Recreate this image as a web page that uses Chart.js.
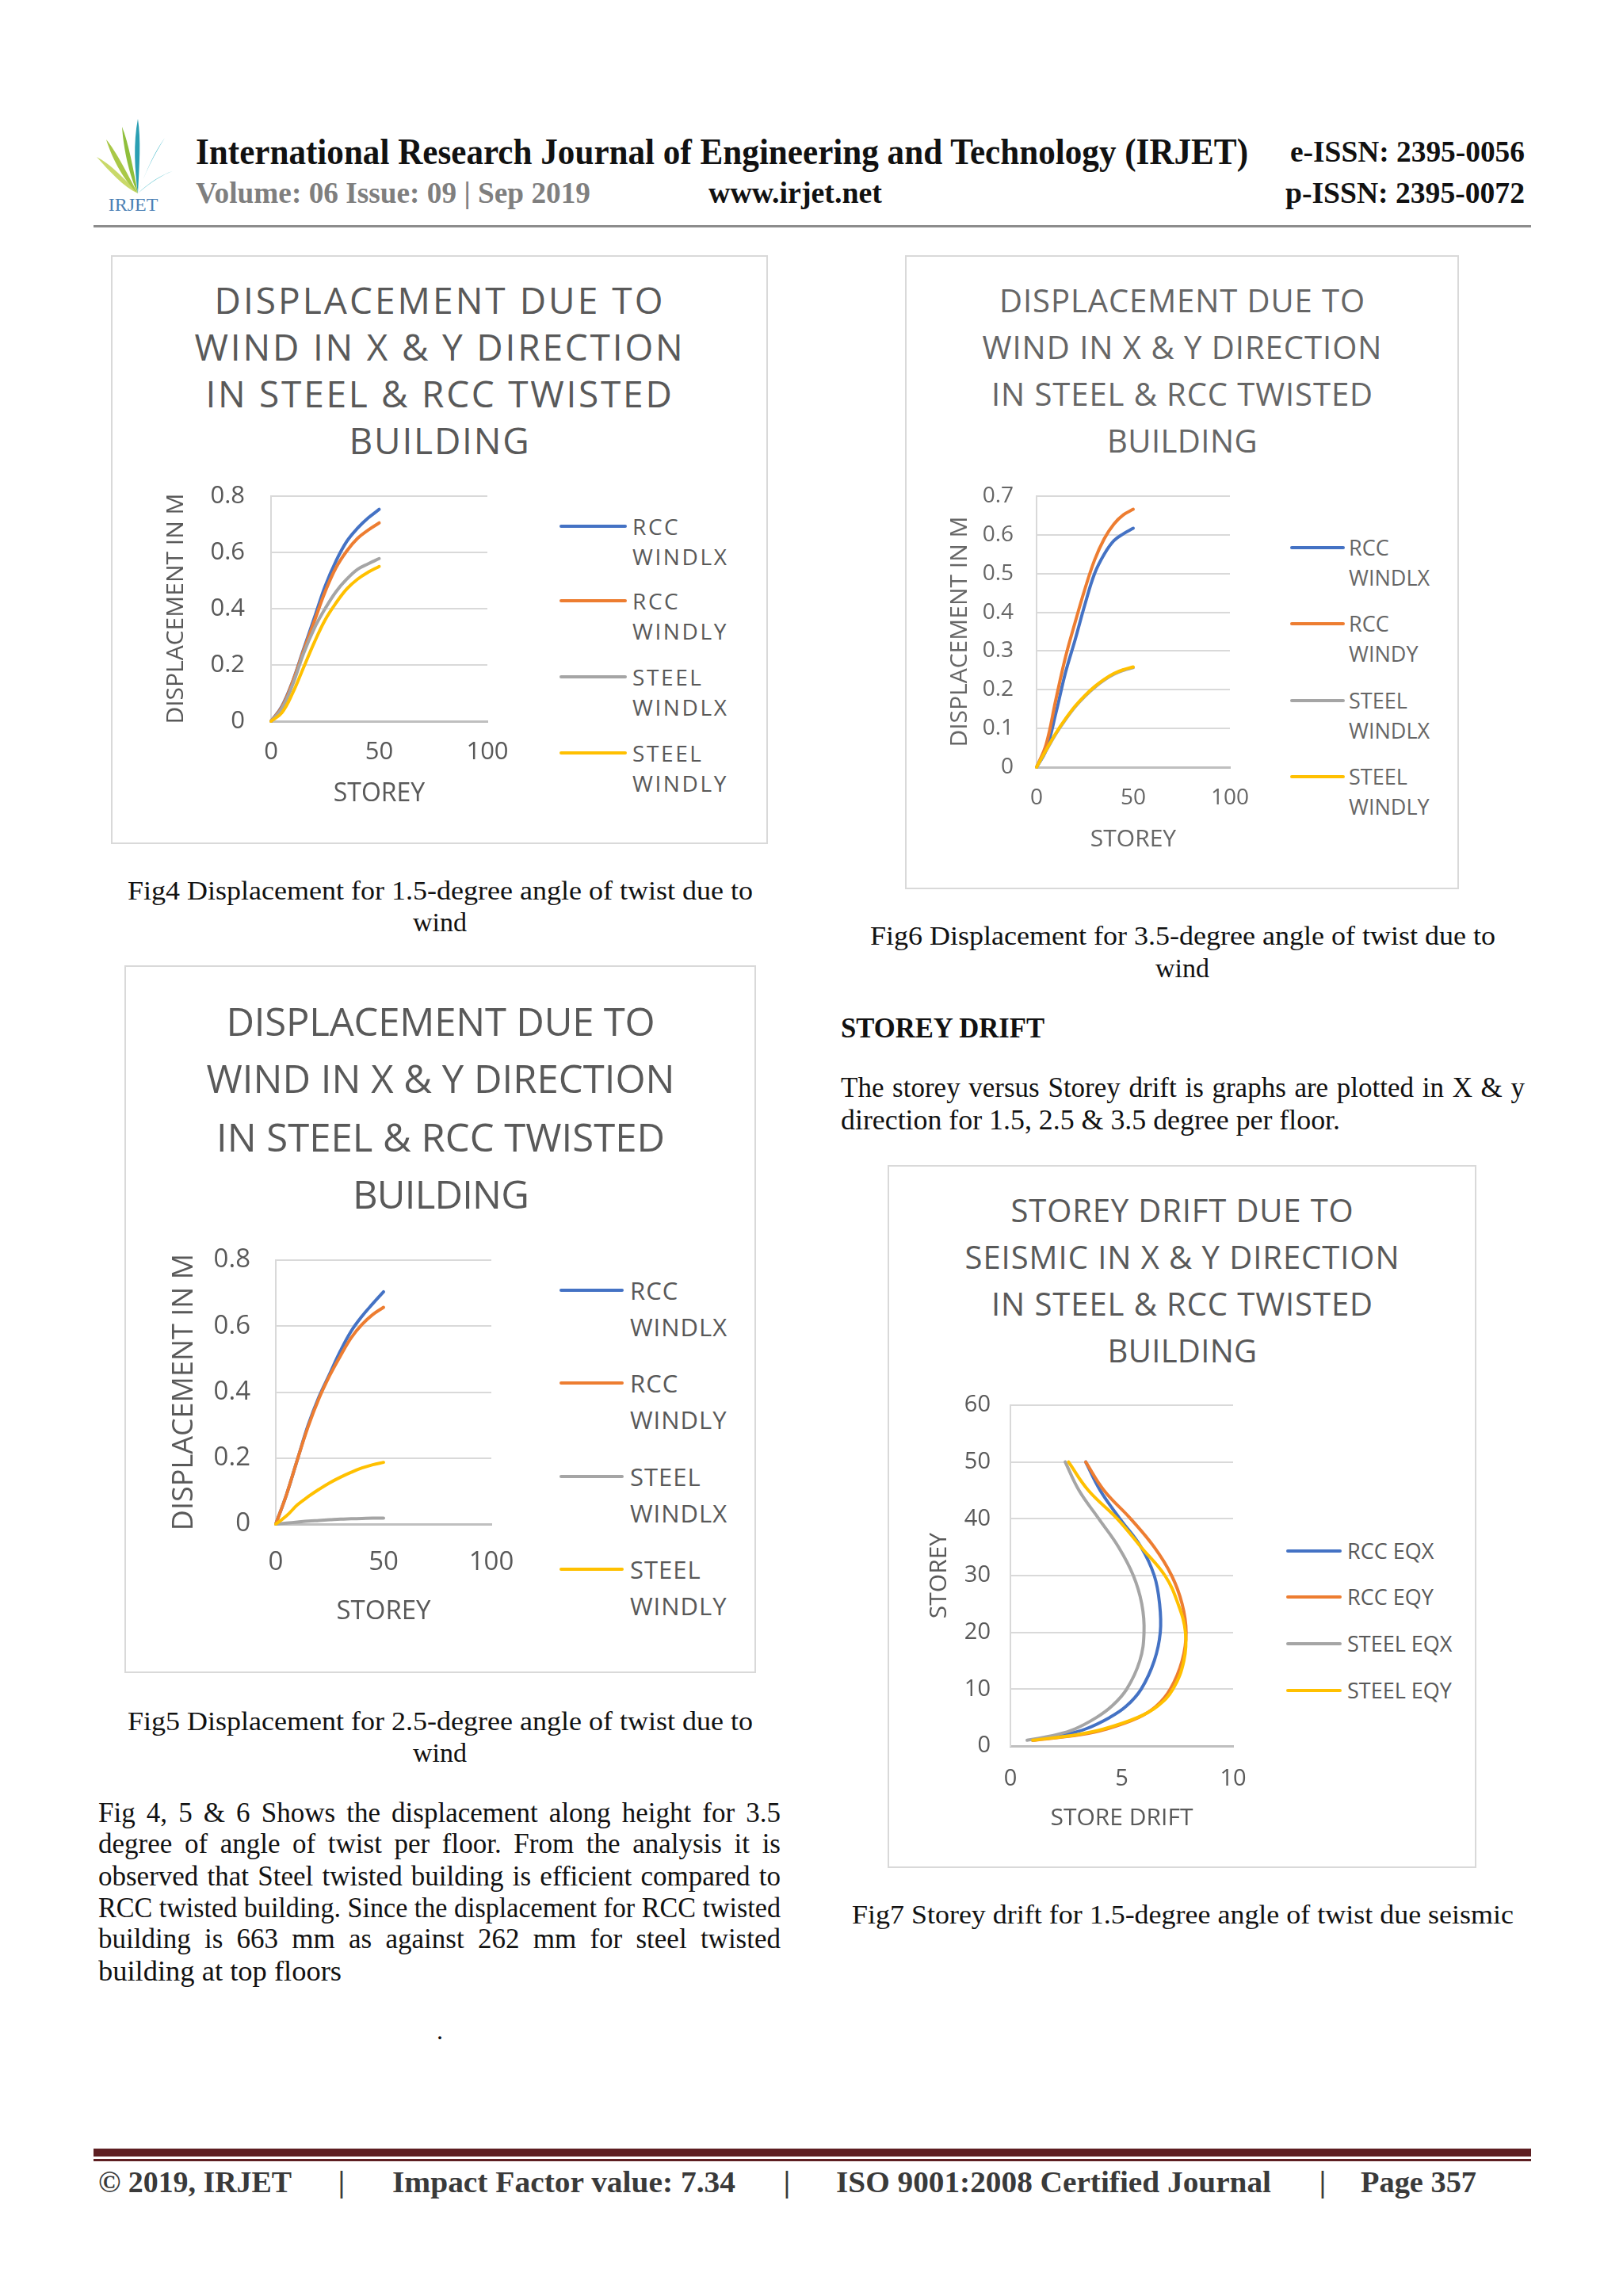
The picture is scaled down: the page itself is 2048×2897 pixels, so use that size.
<!DOCTYPE html>
<html>
<head>
<meta charset="utf-8">
<title>IRJET page 357</title>
<script src="https://cdn.jsdelivr.net/npm/chart.js@4.4.0/dist/chart.umd.min.js"></script>
<style>
  html, body { margin: 0; padding: 0; background: #fff; }
  #page { position: relative; width: 2048px; height: 2897px; overflow: hidden; background: #fff; }
  .t { position: absolute; white-space: nowrap; transform-origin: 0 50%; }
  .serif { font-family: 'Liberation Serif', 'Times New Roman', serif; color: #111; }
  .bold { font-weight: bold; }
  .sans { font-family: 'Open Sans', sans-serif; color: #595959; }
  .box { position: absolute; border: 2px solid #d9d9d9; box-sizing: border-box; }
  .key { position: absolute; height: 4px; border-radius: 2px; }
  .bar { position: absolute; left: 118px; width: 1814px; }
</style>
</head>
<body>
<div id="page">
  <svg style="position:absolute;left:118px;top:146px" width="104" height="124" viewBox="0 0 104 124">
    <path d="M56 98 C40 80 20 60 4 52 C20 70 38 90 56 98Z" fill="#c9d96a"/>
    <path d="M56 98 C42 72 28 44 16 30 C24 56 40 84 56 98Z" fill="#a9c847"/>
    <path d="M56 98 C50 66 44 34 36 14 C38 44 46 78 56 98Z" fill="#8fbf3c"/>
    <path d="M56 98 C58 62 60 30 56 4 C50 34 52 70 56 98Z" fill="#2a9fb3"/>
    <path d="M56 98 C66 70 78 44 90 28 C78 46 64 74 56 98Z" fill="#33b1c4"/>
    <path d="M56 98 C72 84 88 74 100 70 C86 74 68 86 56 98Z" fill="#5cc3cf"/>
    <text x="50" y="120" text-anchor="middle" font-family="Liberation Serif" font-size="24" fill="#4b7fb4">IRJET</text>
  </svg>
  <div class="bar" style="top:284px;height:3px;background:#8c8c8c"></div>
  <div class="bar" style="top:2711px;height:10px;background:#5e1f22"></div>
  <div class="bar" style="top:2724px;height:3px;background:#5e1f22"></div>
</div>
<script>
// ---- chart data ----
const storeyPts = [0, 5, 10, 15, 20, 25, 30, 35, 40, 45, 50];
const seriesColors = ['#4472C4', '#ED7D31', '#A5A5A5', '#FFC000'];

// Fig4 : 1.5 degree twist, wind
const fig4Names = ['RCC WINDLX', 'RCC WINDLY', 'STEEL WINDLX', 'STEEL WINDLY'];
const fig4RccX   = [0, 0.053, 0.142, 0.255, 0.367, 0.48, 0.569, 0.639, 0.686, 0.723, 0.753];
const fig4RccY   = [0, 0.05, 0.14, 0.25, 0.355, 0.46, 0.545, 0.605, 0.65, 0.68, 0.705];
const fig4SteelX = [0, 0.045, 0.13, 0.24, 0.33, 0.40, 0.46, 0.505, 0.54, 0.56, 0.578];
const fig4SteelY = [0, 0.03, 0.10, 0.19, 0.28, 0.36, 0.42, 0.47, 0.505, 0.53, 0.55];

// Fig5 : 2.5 degree twist, wind
const fig5Names = ['RCC WINDLX', 'RCC WINDLY', 'STEEL WINDLX', 'STEEL WINDLY'];
const fig5RccX   = [0, 0.09, 0.195, 0.3, 0.385, 0.455, 0.525, 0.585, 0.63, 0.668, 0.704];
const fig5RccY   = [0, 0.09, 0.195, 0.295, 0.38, 0.45, 0.51, 0.565, 0.605, 0.635, 0.657];
const fig5SteelX = [0, 0.003, 0.006, 0.009, 0.011, 0.013, 0.015, 0.016, 0.017, 0.018, 0.018];
const fig5SteelY = [0, 0.025, 0.058, 0.083, 0.105, 0.125, 0.142, 0.157, 0.17, 0.18, 0.187];

// Fig6 : 3.5 degree twist, wind
const fig6Names = ['RCC WINDLX', 'RCC WINDY', 'STEEL WINDLX', 'STEEL WINDLY'];
const fig6RccX   = [0, 0.045, 0.14, 0.245, 0.33, 0.42, 0.5, 0.55, 0.585, 0.603, 0.617];
const fig6RccY   = [0, 0.06, 0.175, 0.285, 0.375, 0.46, 0.535, 0.59, 0.628, 0.652, 0.666];
const fig6SteelX = [0, 0.043, 0.086, 0.123, 0.156, 0.183, 0.206, 0.225, 0.24, 0.25, 0.257];
const fig6SteelY = [0, 0.045, 0.088, 0.125, 0.158, 0.185, 0.208, 0.227, 0.242, 0.252, 0.259];

// Fig7 : storey drift, seismic (x = drift, y = storey)
const fig7Names = ['RCC EQX', 'RCC EQY', 'STEEL EQX', 'STEEL EQY'];
const fig7Storey   = [1, 2, 3, 5, 7, 10, 15, 20, 25, 30, 35, 40, 45, 50];
const fig7RccEqx   = [1.0, 2.43, 3.38, 4.45, 5.2, 5.87, 6.46, 6.73, 6.70, 6.46, 5.87, 4.92, 4.03, 3.38];
const fig7RccEqy   = [1.0, 3.14, 4.33, 5.75, 6.55, 7.18, 7.71, 7.89, 7.71, 7.24, 6.46, 5.4, 4.2, 3.38];
const fig7SteelEqx = [0.75, 2.08, 2.9, 3.86, 4.55, 5.22, 5.81, 6.0, 5.9, 5.52, 4.86, 3.97, 3.08, 2.46];
const fig7SteelEqy = [1.0, 3.0, 4.2, 5.7, 6.6, 7.3, 7.79, 7.86, 7.53, 6.94, 5.87, 4.8, 3.5, 2.61];

// ticks
const storeyTicks = [0, 50, 100];
const storeyLabels = ['0', '50', '100'];
const disp8Ticks = [0, 0.2, 0.4, 0.6, 0.8];
const disp8Labels = ['0', '0.2', '0.4', '0.6', '0.8'];
const disp7Ticks = [0, 0.1, 0.2, 0.3, 0.4, 0.5, 0.6, 0.7];
const disp7Labels = ['0', '0.1', '0.2', '0.3', '0.4', '0.5', '0.6', '0.7'];
const driftTicks = [0, 5, 10];
const driftLabels = ['0', '5', '10'];
const storey60Ticks = [0, 10, 20, 30, 40, 50, 60];
const storey60Labels = ['0', '10', '20', '30', '40', '50', '60'];

const page = document.getElementById('page');
Chart.defaults.font.family = "'Open Sans', sans-serif";
Chart.defaults.color = '#595959';

// text line helper: fits a line to the width it has in the reference
function T(o) {
  const d = document.createElement('div');
  d.className = 't ' + o.cls;
  d.textContent = o.text;
  const lh = o.lh || o.fs * 1.2;
  d.style.fontSize = o.fs + 'px';
  d.style.lineHeight = lh + 'px';
  d.style.top = (o.cy - lh / 2) + 'px';
  if (o.ls) d.style.letterSpacing = o.ls + 'px';
  if (o.color) d.style.color = o.color;
  page.appendChild(d);
  const nat = d.getBoundingClientRect().width;
  const w = o.w || nat;
  const x = o.cx !== undefined ? o.cx - w / 2 : o.x;
  d.style.left = x + 'px';
  if (o.w) {
    if (o.mode === 'ls') {
      d.style.letterSpacing = ((o.w - nat) / o.text.length) + 'px';
    } else if (o.mode === 'j') {
      const gaps = (o.text.match(/ /g) || []).length;
      const ws = (o.w - nat) / gaps;
      if (ws > -0.08 * o.fs) d.style.wordSpacing = ws + 'px';
      else d.style.transform = 'scaleX(' + (o.w / nat) + ')';
    } else {
      d.style.transform = 'scaleX(' + (o.w / nat) + ')';
    }
  }
  return d;
}

function box(l, t, r, b) {
  const d = document.createElement('div');
  d.className = 'box';
  Object.assign(d.style, { left: l + 'px', top: t + 'px', width: (r - l) + 'px', height: (b - t) + 'px' });
  page.appendChild(d);
}

function chartTitle(lines, cx, ys, fs, widths, color) {
  lines.forEach((s, i) => T({ cls: 'sans', text: s, cx, cy: ys[i], fs, w: widths[i], mode: 'ls', color }));
}

function legend(names, o) {
  names.forEach((name, i) => {
    const k = document.createElement('div');
    k.className = 'key';
    Object.assign(k.style, { left: o.kx + 'px', width: o.kw + 'px', top: (o.ys[i] - 2) + 'px', background: seriesColors[i] });
    page.appendChild(k);
    const parts = o.split ? name.split(' ') : [name];
    parts.forEach((p, j) => T({ cls: 'sans', text: p, x: o.tx, cy: o.ys[i] + j * o.step, fs: o.fs, lh: o.box, ls: o.ls, color: o.color }));
  });
}

// tick offsets are made with invisible tick marks, so they do not push the plot area in
function drawChart(o) {
  const cv = document.createElement('canvas');
  cv.width = o.w; cv.height = o.h;
  cv.style.cssText = `position:absolute;left:${o.left}px;top:${o.top}px;width:${o.w}px;height:${o.h}px`;
  page.appendChild(cv);
  const n = o.series.length;
  new Chart(cv, {
    type: 'scatter',
    data: {
      datasets: o.series.map((s, i) => ({
        label: s.label,
        data: s.xs.map((x, k) => ({ x: x, y: s.ys[k] })),
        showLine: true,
        borderColor: seriesColors[i],
        backgroundColor: seriesColors[i],
        borderWidth: 4,
        pointRadius: 0,
        tension: 0.4,
        borderCapStyle: 'round',
        clip: 6,
        order: n - 1 - i
      }))
    },
    options: {
      responsive: false,
      animation: false,
      devicePixelRatio: 1,
      layout: { padding: { top: o.padT, right: o.padR, left: 0, bottom: 0 } },
      plugins: { legend: { display: false }, tooltip: { enabled: false } },
      scales: {
        x: {
          type: 'linear', min: o.xTicks[0], max: o.xTicks[o.xTicks.length - 1],
          afterBuildTicks: s => { s.ticks = o.xTicks.map(v => ({ value: v })); },
          afterFit: s => { s.height = o.hx; },
          ticks: { callback: (v, i) => o.xLabels[i], padding: 0, font: { size: o.tickFs }, color: o.color },
          grid: { display: false, drawTicks: true, tickLength: o.xPad, tickColor: 'rgba(0,0,0,0)' },
          border: { color: '#bfbfbf', width: 3 },
          title: { display: true, text: o.xTitle, color: o.color, font: { size: o.xTitleFs }, padding: { top: 0, bottom: o.xTitlePb } }
        },
        y: {
          type: 'linear', min: o.yTicks[0], max: o.yTicks[o.yTicks.length - 1],
          afterBuildTicks: s => { s.ticks = o.yTicks.map(v => ({ value: v })); },
          afterFit: s => { s.width = o.wy; },
          ticks: { callback: (v, i) => o.yLabels[i], padding: 0, font: { size: o.tickFs }, color: o.color },
          grid: { color: '#d9d9d9', lineWidth: 2, drawTicks: true, tickLength: o.yPad, tickColor: 'rgba(0,0,0,0)' },
          border: { color: '#d9d9d9', width: 2 },
          title: { display: true, text: o.yTitle, color: o.color, font: { size: o.yTitleFs }, padding: { top: o.yTitlePt, bottom: 0 } }
        }
      }
    }
  });
}

function windSeries(names, rx, ry, sx, sy) {
  return [
    { label: names[0], xs: storeyPts, ys: rx },
    { label: names[1], xs: storeyPts, ys: ry },
    { label: names[2], xs: storeyPts, ys: sx },
    { label: names[3], xs: storeyPts, ys: sy }
  ];
}

const titleLines = ['DISPLACEMENT DUE TO', 'WIND IN X & Y DIRECTION', 'IN STEEL & RCC TWISTED', 'BUILDING'];

// ---- header ----
T({ cls: 'serif bold', text: 'International Research Journal of Engineering and Technology (IRJET)', x: 247, cy: 192, fs: 46, w: 1328 });
T({ cls: 'serif bold', text: 'e-ISSN: 2395-0056', x: 1628, cy: 192, fs: 38, w: 296 });
T({ cls: 'serif bold', text: 'Volume: 06 Issue: 09 | Sep 2019', x: 247, cy: 244, fs: 37, w: 498, color: '#7f7f7f' });
T({ cls: 'serif bold', text: 'www.irjet.net', x: 894, cy: 244, fs: 37, w: 219 });
T({ cls: 'serif bold', text: 'p-ISSN: 2395-0072', x: 1622, cy: 244, fs: 38, w: 302 });

// ---- Fig4 ----
box(140, 322, 969, 1065);
chartTitle(titleLines, 555, [379, 438, 497, 556], 46, [569, 619, 591, 229]);
drawChart({
  left: 190, top: 604, w: 459, h: 426, padT: 22, padR: 34, wy: 152, hx: 120,
  series: windSeries(fig4Names, fig4RccX, fig4RccY, fig4SteelX, fig4SteelY),
  xTicks: storeyTicks, xLabels: storeyLabels, yTicks: disp8Ticks, yLabels: disp8Labels,
  tickFs: 31, xPad: 21, yPad: 33, color: '#595959',
  xTitle: 'STOREY', xTitleFs: 32, xTitlePb: 9,
  yTitle: 'DISPLACEMENT IN M', yTitleFs: 30, yTitlePt: 14
});
legend(fig4Names, { kx: 706, kw: 85, tx: 798, ys: [664, 758, 854, 950], step: 38, box: 36, fs: 28, ls: 2.6, split: true });
T({ cls: 'serif', text: 'Fig4 Displacement for 1.5-degree angle of twist due to', cx: 555, cy: 1124, fs: 34, w: 789 });
T({ cls: 'serif', text: 'wind', cx: 555, cy: 1164, fs: 34 });

// ---- Fig5 ----
box(157, 1218, 954, 2111);
chartTitle(titleLines, 556, [1288, 1360, 1434, 1506], 49, [541, 591, 566, 222]);
drawChart({
  left: 195, top: 1566, w: 459, h: 494, padT: 24, padR: 34, wy: 153, hx: 137,
  series: windSeries(fig5Names, fig5RccX, fig5RccY, fig5SteelX, fig5SteelY),
  xTicks: storeyTicks, xLabels: storeyLabels, yTicks: disp8Ticks, yLabels: disp8Labels,
  tickFs: 33, xPad: 29, yPad: 32, color: '#595959',
  xTitle: 'STOREY', xTitleFs: 33, xTitlePb: 7,
  yTitle: 'DISPLACEMENT IN M', yTitleFs: 36, yTitlePt: 16
});
legend(fig5Names, { kx: 706, kw: 81, tx: 795, ys: [1628, 1745, 1863, 1980], step: 46, box: 44, fs: 31, ls: 1, split: true });
T({ cls: 'serif', text: 'Fig5 Displacement for 2.5-degree angle of twist due to', cx: 555, cy: 2172, fs: 34, w: 789 });
T({ cls: 'serif', text: 'wind', cx: 555, cy: 2212, fs: 34 });

// ---- Fig6 ----
box(1142, 322, 1841, 1122);
chartTitle(titleLines, 1492, [379, 438, 497, 556], 40, [462, 505, 482, 190], '#666');
drawChart({
  left: 1160, top: 604, w: 424, h: 481, padT: 22, padR: 32, wy: 148, hx: 117,
  series: windSeries(fig6Names, fig6RccX, fig6RccY, fig6SteelX, fig6SteelY),
  xTicks: storeyTicks, xLabels: storeyLabels, yTicks: disp7Ticks, yLabels: disp7Labels,
  tickFs: 28, xPad: 22, yPad: 29, color: '#666',
  xTitle: 'STOREY', xTitleFs: 30, xTitlePb: 8,
  yTitle: 'DISPLACEMENT IN M', yTitleFs: 30, yTitlePt: 33
});
legend(fig6Names, { kx: 1628, kw: 69, tx: 1702, ys: [691, 787, 884, 980], step: 38, box: 36, fs: 27, ls: 0, split: true, color: '#666' });
T({ cls: 'serif', text: 'Fig6 Displacement for 3.5-degree angle of twist due to', cx: 1492, cy: 1181, fs: 34, w: 789 });
T({ cls: 'serif', text: 'wind', cx: 1492, cy: 1222, fs: 34 });

// ---- right column text ----
T({ cls: 'serif bold', text: 'STOREY DRIFT', x: 1061, cy: 1298, fs: 35, w: 257 });
T({ cls: 'serif', text: 'The storey versus Storey drift is graphs are plotted in X & y', x: 1061, cy: 1373, fs: 35, w: 863, mode: 'j' });
T({ cls: 'serif', text: 'direction for 1.5, 2.5 & 3.5 degree per floor.', x: 1061, cy: 1414, fs: 35, w: 630 });

// ---- Fig7 ----
box(1120, 1470, 1863, 2357);
chartTitle(['STOREY DRIFT DUE TO', 'SEISMIC IN X & Y DIRECTION', 'IN STEEL & RCC TWISTED', 'BUILDING'],
  1492, [1527, 1586, 1645, 1704], 40, [433, 549, 482, 189]);
drawChart({
  left: 1140, top: 1751, w: 443, h: 569, padT: 22, padR: 27, wy: 135, hx: 117,
  series: [
    { label: fig7Names[0], xs: fig7RccEqx, ys: fig7Storey },
    { label: fig7Names[1], xs: fig7RccEqy, ys: fig7Storey },
    { label: fig7Names[2], xs: fig7SteelEqx, ys: fig7Storey },
    { label: fig7Names[3], xs: fig7SteelEqy, ys: fig7Storey }
  ],
  xTicks: driftTicks, xLabels: driftLabels, yTicks: storey60Ticks, yLabels: storey60Labels,
  tickFs: 29, xPad: 24, yPad: 25, color: '#595959',
  xTitle: 'STORE DRIFT', xTitleFs: 30, xTitlePb: 8,
  yTitle: 'STOREY', yTitleFs: 30, yTitlePt: 27
});
legend(fig7Names, { kx: 1623, kw: 70, tx: 1700, ys: [1957, 2015, 2074, 2133], step: 0, box: 34, fs: 27, ls: 0, split: false });
T({ cls: 'serif', text: 'Fig7 Storey drift for 1.5-degree angle of twist due seismic', cx: 1492, cy: 2416, fs: 34, w: 835 });

// ---- left column text ----
const paraLines = [
  'Fig 4, 5 & 6 Shows the displacement along height for 3.5',
  'degree of angle of twist per floor. From the analysis it is',
  'observed that Steel twisted building is efficient compared to',
  'RCC twisted building. Since the displacement for RCC twisted',
  'building is 663 mm as against 262 mm for steel twisted'
];
const paraY = [2288, 2327, 2368, 2408, 2447];
paraLines.forEach((s, i) => T({ cls: 'serif', text: s, x: 124, cy: paraY[i], fs: 35, lh: 38, w: 861, mode: 'j' }));
T({ cls: 'serif', text: 'building at top floors', x: 124, cy: 2488, fs: 35, lh: 38, w: 307 });
T({ cls: 'serif', text: '.', cx: 555, cy: 2562, fs: 32 });

// ---- footer ----
const footColor = '#3a3a3a';
T({ cls: 'serif bold', text: '\u00A9 2019, IRJET', x: 124, cy: 2754, fs: 38, w: 244, color: footColor });
T({ cls: 'serif bold', text: '|', cx: 431, cy: 2754, fs: 38, color: footColor });
T({ cls: 'serif bold', text: 'Impact Factor value: 7.34', x: 495, cy: 2754, fs: 38, w: 433, color: footColor });
T({ cls: 'serif bold', text: '|', cx: 993, cy: 2754, fs: 38, color: footColor });
T({ cls: 'serif bold', text: 'ISO 9001:2008 Certified Journal', x: 1055, cy: 2754, fs: 38, w: 549, color: footColor });
T({ cls: 'serif bold', text: '|', cx: 1669, cy: 2754, fs: 38, color: footColor });
T({ cls: 'serif bold', text: 'Page 357', x: 1717, cy: 2754, fs: 38, w: 146, color: footColor });
</script>
</body>
</html>
